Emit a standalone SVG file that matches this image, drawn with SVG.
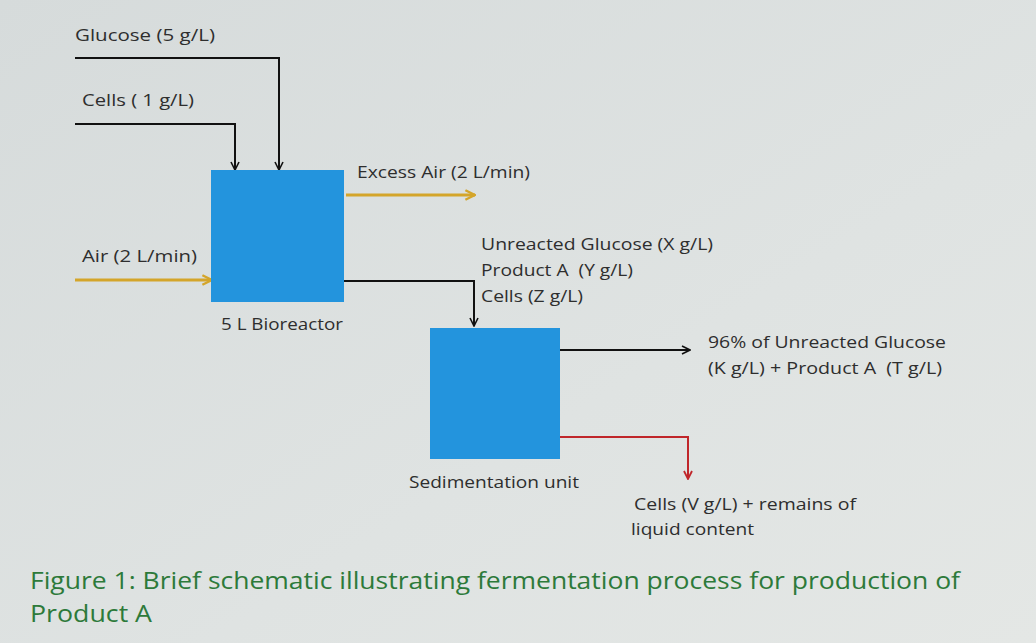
<svg xmlns="http://www.w3.org/2000/svg" width="1036" height="643" viewBox="0 0 1036 643">
<defs>
<linearGradient id="bg" x1="0" y1="0" x2="1" y2="1">
<stop offset="0" stop-color="#d6dbdb"/>
<stop offset="0.6" stop-color="#dfe3e2"/>
<stop offset="1" stop-color="#e4e7e5"/>
</linearGradient>
<marker id="ak" viewBox="0 0 10 10" refX="9" refY="5" markerWidth="10" markerHeight="10" markerUnits="userSpaceOnUse" orient="auto"><path d="M1,1 L9,5 L1,9" fill="none" stroke="#111" stroke-width="1.6"/></marker>
<marker id="ag" viewBox="0 0 10 10" refX="9" refY="5" markerWidth="12" markerHeight="12" markerUnits="userSpaceOnUse" orient="auto"><path d="M1,1 L9,5 L1,9" fill="none" stroke="#d4a52a" stroke-width="2"/></marker>
<marker id="ar" viewBox="0 0 10 10" refX="9" refY="5" markerWidth="10" markerHeight="10" markerUnits="userSpaceOnUse" orient="auto"><path d="M1,1 L9,5 L1,9" fill="none" stroke="#c0262a" stroke-width="1.8"/></marker>
</defs>
<style>
.t{font-family:"Open Sans","Liberation Sans",sans-serif;font-size:16.5px;fill:#2e2e2e;white-space:pre}
.cap{font-family:"Open Sans","Liberation Sans",sans-serif;font-size:24px;fill:#2d7a3a}
.box{fill:#2394dd}
.k{fill:none;stroke:#111;stroke-width:2}
.g{fill:none;stroke:#d4a52a;stroke-width:3}
.r{fill:none;stroke:#c0262a;stroke-width:2}
</style>
<rect width="1036" height="643" fill="url(#bg)"/>
<g id="connectors">
<path class="k" d="M75,58 H279 V170" marker-end="url(#ak)"/>
<path class="k" d="M75,124 H235 V170" marker-end="url(#ak)"/>
<path class="g" d="M75,280 H212" marker-end="url(#ag)"/>
<path class="g" d="M346,195 H475" marker-end="url(#ag)"/>
<path class="k" d="M344,281 H474 V326" marker-end="url(#ak)"/>
<path class="k" d="M560,350 H690" marker-end="url(#ak)"/>
<path class="r" d="M560,437 H688 V479" marker-end="url(#ar)"/>
</g>
<g id="bioreactor">
<rect class="box" x="211" y="170" width="133" height="132"/>
<text class="t" x="221" y="330" textLength="122" lengthAdjust="spacingAndGlyphs">5 L Bioreactor</text>
</g>
<g id="sedimentation">
<rect class="box" x="430" y="328" width="130" height="131"/>
<text class="t" x="409" y="488" textLength="170" lengthAdjust="spacingAndGlyphs">Sedimentation unit</text>
</g>
<g id="glucose-in"><text class="t" x="75" y="41" textLength="140" lengthAdjust="spacingAndGlyphs">Glucose (5 g/L)</text></g>
<g id="cells-in"><text class="t" x="82" y="106" textLength="112" lengthAdjust="spacingAndGlyphs">Cells ( 1 g/L)</text></g>
<g id="air-in"><text class="t" x="82" y="262" textLength="115" lengthAdjust="spacingAndGlyphs">Air (2 L/min)</text></g>
<g id="excess-air"><text class="t" x="357" y="178" textLength="173" lengthAdjust="spacingAndGlyphs">Excess Air (2 L/min)</text></g>
<g id="stream">
<text class="t" x="481" y="250" textLength="232" lengthAdjust="spacingAndGlyphs">Unreacted Glucose (X g/L)</text>
<text class="t" x="481" y="276" textLength="152" lengthAdjust="spacingAndGlyphs">Product A  (Y g/L)</text>
<text class="t" x="481" y="302" textLength="102" lengthAdjust="spacingAndGlyphs">Cells (Z g/L)</text>
</g>
<g id="liquid-out">
<text class="t" x="708" y="348" textLength="238" lengthAdjust="spacingAndGlyphs">96% of Unreacted Glucose</text>
<text class="t" x="708" y="374" textLength="234" lengthAdjust="spacingAndGlyphs">(K g/L) + Product A  (T g/L)</text>
</g>
<g id="cells-out">
<text class="t" x="634" y="510" textLength="222" lengthAdjust="spacingAndGlyphs">Cells (V g/L) + remains of</text>
<text class="t" x="631" y="535" textLength="123" lengthAdjust="spacingAndGlyphs">liquid content</text>
</g>
<g id="caption">
<text class="cap" x="30" y="589" textLength="930" lengthAdjust="spacingAndGlyphs">Figure 1: Brief schematic illustrating fermentation process for production of</text>
<text class="cap" x="30" y="622" textLength="122" lengthAdjust="spacingAndGlyphs">Product A</text>
</g>
</svg>
